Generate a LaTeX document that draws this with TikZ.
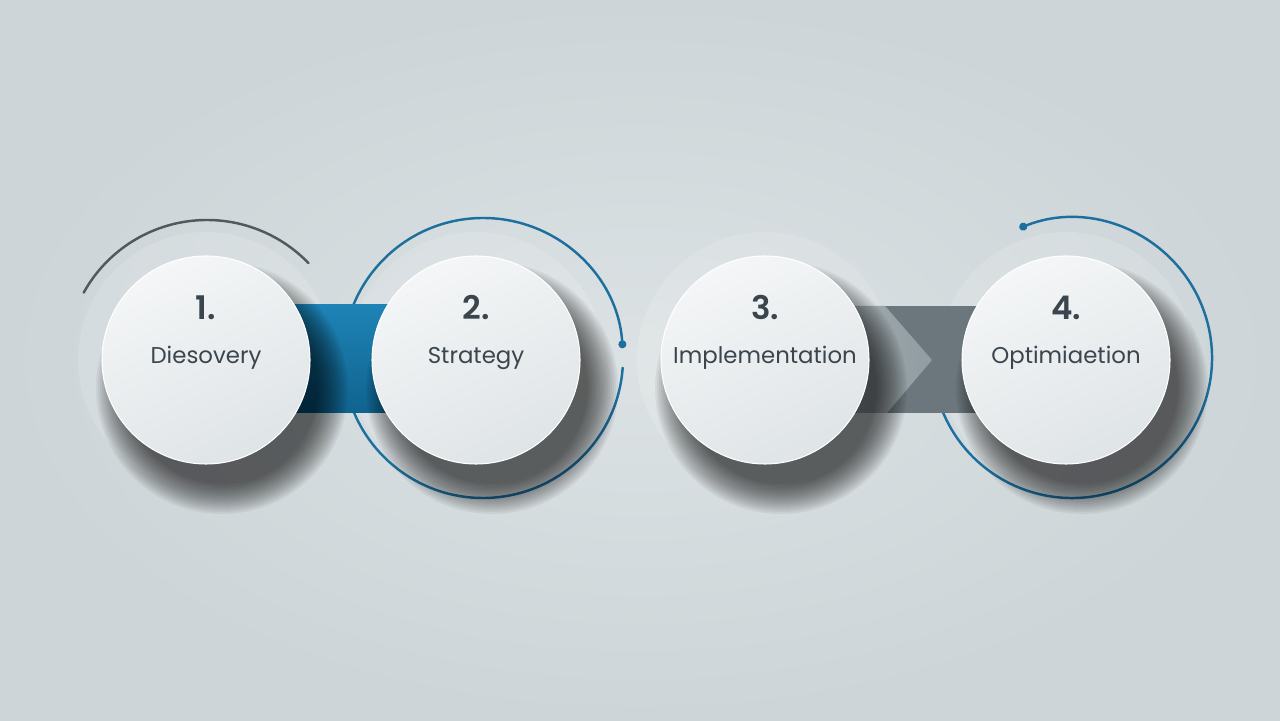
\documentclass[tikz,border=0pt]{standalone}
\usepackage{fontspec}
\setmainfont{Poppins}
\newfontfamily\numfont{Poppins SemiBold}
\usetikzlibrary{arrows.meta,backgrounds,calc}

\definecolor{bgouter}{HTML}{CDD5D8}
\definecolor{bginner}{HTML}{DCE2E4}
\definecolor{discTop}{HTML}{F4F6F7}
\definecolor{discBot}{HTML}{DFE4E6}
\definecolor{inkGray}{HTML}{3A454D}
\definecolor{ringBlue}{HTML}{1D6F9E}
\definecolor{ringGray}{HTML}{4F5960}
\definecolor{barBlue}{HTML}{1E83B6}
\definecolor{barBlueDk}{HTML}{10638E}
\definecolor{barGray}{HTML}{6B777D}
\definecolor{barGrayLt}{HTML}{909CA1}

\tikzset{
  disc/.style={circle, minimum size=4.16cm, inner sep=0pt,
    top color=discTop, bottom color=discBot, shading angle=25},
  halo/.style={fill=white, opacity=0.14},
  softshadow/.style={fill=black, opacity=0.05},
  ring/.style={line width=1.4pt, line cap=round},
  numlabel/.style={anchor=base, text=inkGray, font=\fontsize{18.5}{20}\numfont},
  steplabel/.style={anchor=base, text=inkGray, font=\fontsize{13}{15}\selectfont}
}

\begin{document}
\begin{tikzpicture}[x=0.02cm, y=0.02cm]
  \useasboundingbox (0,0) rectangle (1280,720);
  % the four steps
  \node[disc] (c1) at (206,360) {};
  \node[disc] (c2) at (476,360) {};
  \node[disc] (c3) at (765,360) {};
  \node[disc] (c4) at (1066,360) {};
  \draw[white, line width=0.6pt] (c1.center) circle (104) (c2.center) circle (104)
    (c3.center) circle (104) (c4.center) circle (104);

  \node[numlabel] (n1) at ($(c1.center)+(0,40)$) {1.};
  \node[numlabel] (n2) at ($(c2.center)+(0,40)$) {2.};
  \node[numlabel] (n3) at ($(c3.center)+(0,40)$) {3.};
  \node[numlabel] (n4) at ($(c4.center)+(0,40)$) {4.};
  \node[steplabel] (l1) at ($(c1.center)+(0,-4)$) {Diesovery};
  \node[steplabel] (l2) at ($(c2.center)+(0,-4)$) {Strategy};
  \node[steplabel] (l3) at ($(c3.center)+(0,-4)$) {Implementation};
  \node[steplabel] (l4) at ($(c4.center)+(0,-4)$) {Optimiaetion};

  \begin{scope}[on background layer]
    \shade[inner color=bginner, outer color=bgouter] (0,0) rectangle (1280,720);
    \fill[halo] (c1.center) circle (128);
    \fill[halo] (c2.center) circle (128);
    \fill[halo] (c3.center) circle (128);
    \fill[halo] (c4.center) circle (128);
    % rings round the steps
    \draw[ring, ringGray] (c1.center) ++(1,-1) ++(151:141)
      arc[start angle=151, end angle=44, radius=141];
    \draw[ring, ringBlue, {Circle[length=4.5pt]}-] (c2.center) ++(7,2) ++(4:140)
      arc[start angle=4, end angle=356, radius=140];
    \draw[ring, ringBlue, {Circle[length=4.5pt]}-] (c4.center) ++(6,2) ++(112:140)
      arc[start angle=112, end angle=-158, radius=140];
    % links between the steps
    \shade[top color=barBlue, bottom color=barBlueDk]
      ($(c1.center)+(0,55)$) rectangle ($(c2.center)+(0,-53)$);
    \fill[barGray] ($(c3.center)+(0,54)$) rectangle ($(c4.center)+(0,-53)$);
    \shade[left color=barGrayLt!70!white, right color=barGrayLt]
      ($(c3.center)+(0,54)$) -- ++(120,0) -- (932,360) -- ++(-45,-53)
      -- ($(c3.center)+(0,-53)$) -- cycle;
    % soft shadows under the steps
    \foreach \c in {c1,c2,c3,c4}
      \foreach \r in {96,98,...,126}
        \fill[softshadow] ($(\c.center)+(16,-28)$) circle (\r);
  \end{scope}
\end{tikzpicture}
\end{document}
